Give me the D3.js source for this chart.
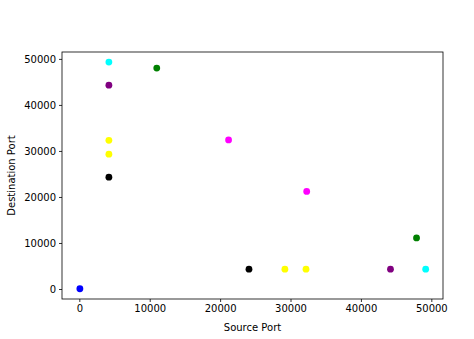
<!DOCTYPE html>
<html>
<head>
<meta charset="utf-8">
<script src="https://cdn.jsdelivr.net/npm/d3@7"></script>
<style>
  body { margin: 0; background: #fff; }
  text { font-family: "DejaVu Sans", sans-serif; }
</style>
</head>
<body>
<div id="chartdiv"></div>
<script>
/* --- data --- */
let srcPorts = [80, 4200, 11000, 4200, 4200, 4200, 21200, 4200, 24100, 32300, 47900, 29200, 32200, 44200, 49200]
let dstPorts = [53, 49300, 48000, 44300, 32300, 29300, 32400, 24300, 4300, 21200, 11100, 4300, 4300, 4300, 4300]
let dotColors = ["blue", "cyan", "green", "purple", "yellow", "yellow", "magenta", "black", "black", "magenta", "green", "yellow", "yellow", "purple", "cyan"]
let xTicks = [0, 10000, 20000, 30000, 40000, 50000]
let yTicks = [0, 10000, 20000, 30000, 40000, 50000]
let xLabel = "Source Port"
let yLabel = "Destination Port"
/* --------------------------------- */

let width = 474
let height = 339
let leftEdge = 62
let rightEdge = 443
let topEdge = 52
let bottomEdge = 299

function drawChart(){
   let svg = d3.select('#chartdiv')
      .append('svg')
      .attr("width", width)
      .attr("height", height)

   let xscale = d3.scaleLinear()
      .domain([-2460, 51660])
      .range([leftEdge, rightEdge])
   let yscale = d3.scaleLinear()
      .domain([-2170, 51500])
      .range([bottomEdge, topEdge])

   let x_axis = d3.axisBottom(xscale).tickValues(xTicks).tickSize(3).tickPadding(3).tickFormat(d3.format("d"))
   let y_axis = d3.axisLeft(yscale).tickValues(yTicks).tickSize(3).tickPadding(3).tickFormat(d3.format("d"))

   let gx = svg.append("g")
      .attr("transform", `translate(0, ${bottomEdge})`)
      .call(x_axis)
   let gy = svg.append("g")
      .attr("transform", `translate(${leftEdge}, 0)`)
      .call(y_axis)
   for (let g of [gx, gy]) {
      g.select(".domain").remove()
      g.selectAll("text").attr("font-size", 10).attr("fill", "#000").attr("font-family", "DejaVu Sans")
      g.selectAll("line").attr("stroke", "#000").attr("stroke-width", 0.8)
   }

   // axes frame
   svg.append("rect")
      .attr("x", leftEdge)
      .attr("y", topEdge)
      .attr("width", rightEdge - leftEdge)
      .attr("height", bottomEdge - topEdge)
      .attr("fill", "none")
      .attr("stroke", "#000")
      .attr("stroke-width", 0.8)

   srcPorts.forEach((s, i) => {
      svg.append("circle")
         .attr("cx", xscale(s))
         .attr("cy", yscale(dstPorts[i]))
         .attr("r", 3.4)
         .attr("fill", dotColors[i])
   })

   svg.append("text")
      .attr("x", (leftEdge + rightEdge) / 2)
      .attr("y", 331)
      .attr("text-anchor", "middle")
      .attr("font-size", 10)
      .text(xLabel)
   svg.append("text")
      .attr("transform", `translate(15, ${(topEdge + bottomEdge) / 2}) rotate(-90)`)
      .attr("text-anchor", "middle")
      .attr("font-size", 10)
      .text(yLabel)
}
drawChart()
</script>
</body>
</html>
